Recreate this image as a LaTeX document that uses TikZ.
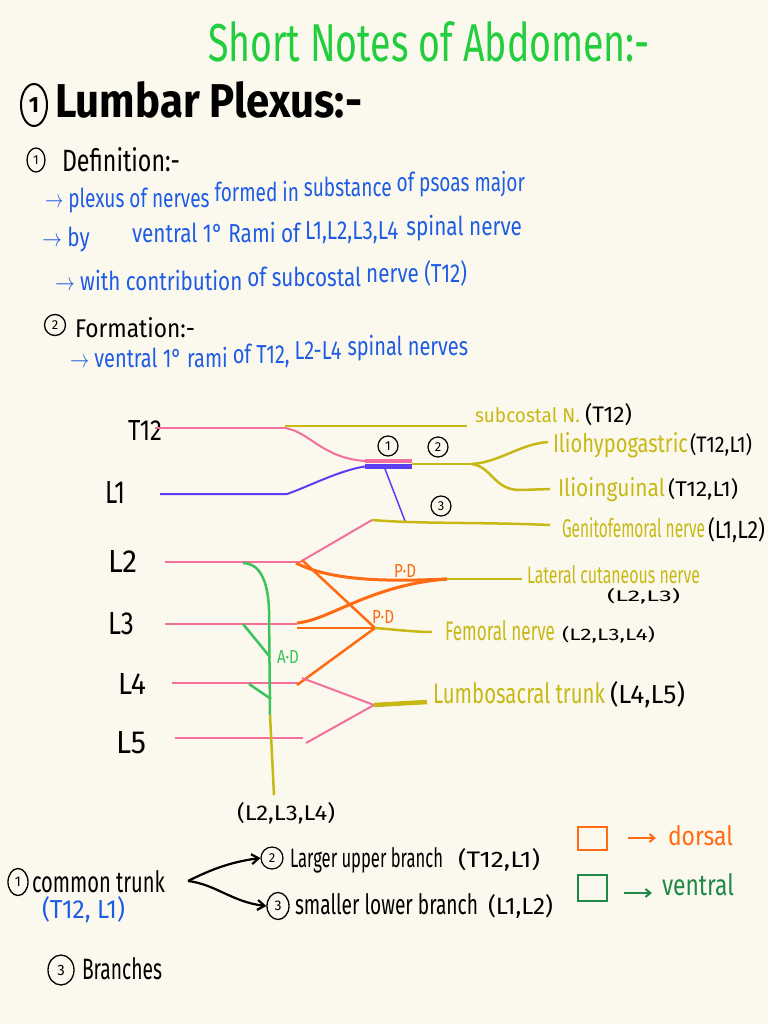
\documentclass[tikz,border=0pt]{standalone}
\usepackage{fontspec}
\setmainfont{Fira Sans}
\usetikzlibrary{arrows.meta,shapes.geometric,calc}
\definecolor{bgc}{RGB}{251,249,238}
\definecolor{titlegreen}{RGB}{34,206,62}
\definecolor{bluetxt}{RGB}{30,92,228}
\definecolor{pinkc}{RGB}{242,112,155}
\definecolor{olivec}{RGB}{200,184,22}
\definecolor{nerveblue}{RGB}{92,62,242}
\definecolor{orangec}{RGB}{255,106,19}
\definecolor{adgreen}{RGB}{60,195,90}
\definecolor{vgreen}{RGB}{31,138,69}
\newcommand{\fit}[3]{\resizebox{#1pt}{#2pt}{#3}}
\newcommand{\bluefont}{\fontsize{26}{26}\selectfont}
\newsavebox{\mylinebox}
\newcommand{\calcsx}[3]{\sbox{\mylinebox}{\bluefont #3}\pgfmathsetmacro{#1}{#2/\the\wd\mylinebox}}
\newcommand{\ch}[2]{\scalebox{#1}[1]{\bluefont #2}}
\begin{document}
\calcsx{\sxA}{480}{$\to$ plexus of nerves formed in substance of psoas major}%
\calcsx{\sxB}{388}{ventral 1° Rami of L1,L2,L3,L4 spinal nerve}%
\calcsx{\sxC}{413}{$\to$ with contribution of subcostal nerve (T12)}%
\calcsx{\sxD}{398}{$\to$ ventral 1° rami of T12, L2-L4 spinal nerves}%
\begin{tikzpicture}[x=1pt,y=-1pt,
  txt/.style={anchor=base west, inner sep=0pt, outer sep=0pt},
  btxt/.style={txt, text=bluetxt},
  circ/.style={circle, draw, line width=1.2pt, inner sep=0pt, minimum size=20pt, font=\fontsize{13}{13}\selectfont},
  ell/.style={ellipse, draw, line width=1.3pt, inner sep=0pt},
  pinkln/.style={draw=pinkc, line width=2pt},
  oliveln/.style={draw=olivec, line width=2.5pt},
  orangeln/.style={draw=orangec, line width=2.5pt},
  greenln/.style={draw=adgreen, line width=2.5pt},
  blueln/.style={draw=nerveblue, line width=2pt}]
\fill[bgc] (0,0) rectangle (768,1024);
\useasboundingbox (0,0) rectangle (768,1024);

% ---------- header ----------
\node[txt, text=titlegreen] (title) at (208,62) {\fit{442}{40}{Short Notes of Abdomen:-}};
\node[ell, line width=2pt, minimum width=26pt, minimum height=42pt, font=\bfseries\fontsize{22}{22}\selectfont] (c1) at (34,105) {1};
\node[txt] (lp) at (55,118) {\fit{307}{36}{\bfseries Lumbar Plexus:-}};

\node[ell, minimum width=18pt, minimum height=24pt, font=\fontsize{13}{13}\selectfont] (cdef) at (36,160) {1};
\node[txt] (def) at (62,172) {\fit{118}{24}{Definition:-}};

% line 1
\node[btxt] (b1a) at (45,208) {\ch{\sxA}{$\to$ plexus of nerves}};
\node[btxt] (b1b) at ($(b1a.base east)+(5,-6)$) {\ch{\sxA}{formed in}};
\node[btxt] (b1c) at ($(b1b.base east)+(5,-5)$) {\ch{\sxA}{substance}};
\node[btxt] (b1d) at ($(b1c.base east)+(5,-5)$) {\ch{\sxA}{of psoas major}};
% line 2
\node[btxt] (b2a) at (42,246) {\ch{\sxB}{$\to$ by}};
\node[btxt] (b2b) at (132,243) {\ch{\sxB}{ventral 1° Rami of}};
\node[btxt] (b2c) at ($(b2b.base east)+(5,-3)$) {\ch{\sxB}{L1,L2,L3,L4}};
\node[btxt] (b2d) at ($(b2c.base east)+(8,-4)$) {\ch{\sxB}{spinal nerve}};
% line 3
\node[btxt] (b3a) at (55,290) {\ch{\sxC}{$\to$ with contribution}};
\node[btxt] (b3b) at ($(b3a.base east)+(5,-4)$) {\ch{\sxC}{of subcostal}};
\node[btxt] (b3c) at ($(b3b.base east)+(5,-4)$) {\ch{\sxC}{nerve (T12)}};

\node[ell, minimum width=21pt, minimum height=21pt, font=\fontsize{13}{13}\selectfont] (cform) at (55,325) {2};
\node[txt] (form) at (75,337) {\fit{120}{20}{Formation:-}};

% line 4
\node[btxt] (b4a) at (70,367) {\ch{\sxD}{$\to$ ventral 1° rami}};
\node[btxt] (b4b) at ($(b4a.base east)+(5,-4)$) {\ch{\sxD}{of T12,}};
\node[btxt] (b4c) at ($(b4b.base east)+(5,-4)$) {\ch{\sxD}{L2-L4}};
\node[btxt] (b4d) at ($(b4c.base east)+(6,-4)$) {\ch{\sxD}{spinal nerves}};

% ---------- spinal nerve labels ----------
\node[txt] (lT12) at (128,440) {\fit{34}{20}{T12}};
\node[txt] (lL1) at (105,503) {\fit{20}{22}{L1}};
\node[txt] (lL2) at (108,572) {\fit{29}{22}{L2}};
\node[txt] (lL3) at (108,634) {\fit{26}{22}{L3}};
\node[txt] (lL4) at (118,694) {\fit{28}{21}{L4}};
\node[txt] (lL5) at (116,753) {\fit{30}{22}{L5}};

% coordinates
\coordinate (t12a) at (155,428); \coordinate (t12b) at (285,428);
\coordinate (l1a) at (160,494);  \coordinate (l1b) at (287,494);
\coordinate (l2a) at (165,562);  \coordinate (l2b) at (300,562);
\coordinate (l3a) at (165,624);  \coordinate (l3b) at (297,624);
\coordinate (l4a) at (172,683);  \coordinate (l4b) at (300,683);
\coordinate (l5a) at (175,738);  \coordinate (l5b) at (303,738);
\coordinate (split) at (472,464);
\coordinate (gfj) at (372,520);
\coordinate (lcj) at (447,579);
\coordinate (fj) at (375,628);
\coordinate (lsj) at (374,705);

% T12 and L1
\draw[pinkln] (t12a) -- (t12b);
\draw[oliveln] (t12b) ++(0,-2) -- (467,426) coordinate (subE);
\draw[pinkln] (t12b) .. controls (310,432) and (322,458) .. (365,461);
\draw[draw=pinkc, line width=4pt] (365,461) -- (412,461);
\draw[blueln] (l1a) -- (l1b) .. controls (305,488) and (340,470) .. (365,466.5);
\draw[draw=nerveblue, line width=4.5pt] (365,466.5) -- (412,466.5);
\draw[draw=nerveblue, line width=1.5pt] (385,469) -- (405,521);
\draw[oliveln] (412,464) -- (split);
\draw[oliveln] (split) .. controls (500,462) and (520,444) .. (548,442) coordinate (ihE);
\draw[oliveln] (split) .. controls (492,467) and (494,490) .. (520,490) -- (550,489) coordinate (iiE);
\node[circ] (n1) at (388,446) {1};
\node[circ] (n2) at (438,447) {2};
\node[circ] (n3) at (441,506) {3};

% Genitofemoral
\draw[pinkln] (l2b) -- (gfj);
\draw[oliveln] (gfj) .. controls (420,524) and (480,522) .. (550,525) coordinate (gfE);

% L2-L5 lines
\draw[pinkln] (l2a) -- (l2b);
\draw[pinkln] (l3a) -- (l3b);
\draw[pinkln] (l4a) -- (l4b);
\draw[pinkln] (l5a) -- (l5b);

% anterior divisions (green)
\draw[greenln] (243,563) .. controls (258,563) and (268,578) .. (269,610) -- (270,715) coordinate (obt);
\draw[oliveln] (obt) -- (274,795) coordinate (obtE);
\draw[greenln] (243,624) -- (270,657);
\draw[greenln] (249,684) -- (271,699);
\node[text=adgreen, inner sep=0pt] (ad) at (288,657) {\fit{22}{13}{A·D}};

% posterior divisions (orange)
\draw[draw=orangec, line width=3pt] (296,563) .. controls (330,580) and (380,582) .. (lcj);
\draw[draw=orangec, line width=3pt] (297,623) .. controls (330,620) and (370,585) .. (lcj);
\draw[orangeln] (302,560) -- (fj);
\draw[orangeln] (297,628) -- (fj);
\draw[orangeln] (297,685) -- (fj);
\node[text=orangec, inner sep=0pt] (pd1) at (405,571) {\fit{22}{13}{P·D}};
\node[text=orangec, inner sep=0pt] (pd2) at (383,617) {\fit{22}{13}{P·D}};
\draw[oliveln] (lcj) -- (522,579) coordinate (lcE);
\draw[oliveln] (fj) .. controls (400,630) and (415,632) .. (432,632) coordinate (fE);

% lumbosacral trunk
\draw[pinkln] (302,678) -- (lsj);
\draw[pinkln] (306,743) -- (lsj);
\draw[draw=olivec, line width=4.5pt] (lsj) -- (427,702) coordinate (lsE);

% branch labels
\node[txt, text=olivec] (subc) at (475,422) {\fit{105}{15}{subcostal N.}};
\node[txt] (subcr) at (585,422) {\fit{47}{19}{(T12)}};
\node[txt, text=olivec] (ih) at (553,452) {\fit{135}{20}{Iliohypogastric}};
\node[txt] (ihr) at (690,452) {\fit{62}{19}{(T12,L1)}};
\node[txt, text=olivec] (ii) at (558,496) {\fit{107}{19}{Ilioinguinal}};
\node[txt] (iir) at (668,496) {\fit{70}{18}{(T12,L1)}};
\node[txt, text=olivec] (gf) at (562,537) {\fit{143}{20}{Genitofemoral nerve}};
\node[txt] (gfr) at (708,538) {\fit{57}{21}{(L1,L2)}};
\node[txt, text=olivec] (lc) at (527,583) {\fit{173}{18}{Lateral cutaneous nerve}};
\node[txt] (lcr) at (607,601) {\fit{73}{13}{(L2,L3)}};
\node[txt, text=olivec] (fem) at (445,640) {\fit{110}{20}{Femoral nerve}};
\node[txt] (femr) at (562,640) {\fit{93}{14}{(L2,L3,L4)}};
\node[txt, text=olivec] (ls) at (433,703) {\fit{172}{21}{Lumbosacral trunk}};
\node[txt] (lsr) at (610,703) {\fit{75}{22}{(L4,L5)}};
\node[txt] (obtr) at (237,820) {\fit{98}{18}{(L2,L3,L4)}};

% ---------- bottom notes ----------
\node[ell, minimum width=20pt, minimum height=27pt, font=\fontsize{14}{14}\selectfont] (bc1) at (18,882) {1};
\node[txt] (ct) at (32,892) {\fit{133}{22}{common trunk}};
\node[btxt] (ctr) at (42,918) {\fit{83}{22}{(T12, L1)}};
\node[circ, minimum size=22pt] (bc2) at (272,858) {2};
\node[txt] (lub) at (290,867) {\fit{153}{20}{Larger upper branch}};
\node[txt] (lubr) at (458,867) {\fit{82}{19}{(T12,L1)}};
\node[ell, minimum width=22pt, minimum height=27pt, font=\fontsize{14}{14}\selectfont] (bc3) at (278,906) {3};
\node[txt] (slb) at (295,914) {\fit{183}{21}{smaller lower branch}};
\node[txt] (slbr) at (488,914) {\fit{65}{20}{(L1,L2)}};
\coordinate (ctout) at (188,881);
\draw[line width=2.2pt, -{Straight Barb[length=7pt,width=10pt]}] (ctout) .. controls (210,870) and (230,862) .. (bc2.west);
\draw[line width=2.2pt, -{Straight Barb[length=7pt,width=10pt]}] (ctout) .. controls (215,884) and (232,902) .. (bc3.west);
\node[ell, minimum width=26pt, minimum height=30pt, font=\fontsize{15}{15}\selectfont] (bc4) at (61,970) {3};
\node[txt] (br) at (82,979) {\fit{80}{22}{Branches}};

% legend
\draw[draw=orangec, line width=2pt] (578,827) rectangle (607,850);
\coordinate (oa1) at (628,838);
\node[txt, text=orangec] (dors) at (668,845) {\fit{65}{20}{dorsal}};
\draw[draw=orangec, line width=2pt, -{Straight Barb[length=5pt,width=8pt]}] (oa1) -- (656,838);
\draw[draw=vgreen, line width=2pt] (578,875) rectangle (607,901);
\coordinate (ga1) at (624,893);
\node[txt, text=vgreen] (vent) at (662,895) {\fit{72}{22}{ventral}};
\draw[draw=vgreen, line width=2pt, -{Straight Barb[length=5pt,width=8pt]}] (ga1) -- (652,893);
\end{tikzpicture}
\end{document}
